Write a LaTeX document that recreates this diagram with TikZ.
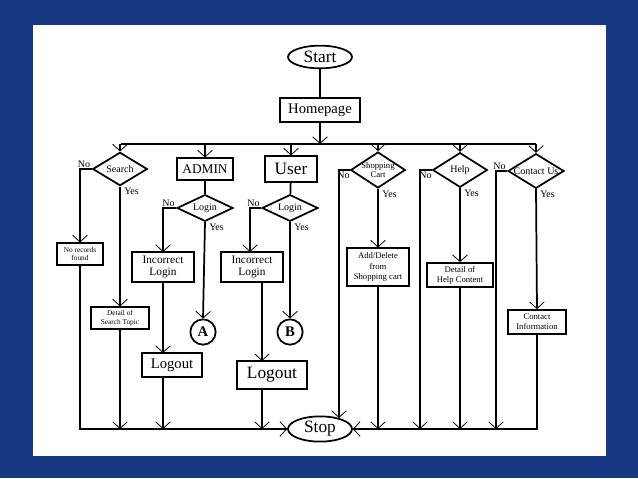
\documentclass[tikz,border=0pt]{standalone}
\usepackage{fontspec}
\setmainfont{Liberation Serif}
\usetikzlibrary{shapes.geometric,arrows.meta}
\definecolor{bg}{RGB}{22,56,130}
\begin{document}
\begin{tikzpicture}[x=0.75pt,y=-0.75pt,
  ln/.style={line width=1.3pt},
  ar/.style={ln,-{Straight Barb[length=5pt,width=11pt,line width=0.6pt]}},
  bx/.style={draw,line width=1.3pt,rectangle,inner sep=1pt,align=center},
  dm/.style={draw,line width=1.3pt,diamond,inner sep=0pt},
  dt/.style={font=\fontsize{7.5}{7}\selectfont,align=center,inner sep=0pt},
  el/.style={draw,line width=1.3pt,ellipse,inner sep=1pt,font=\fontsize{13}{14}\selectfont},
  sm/.style={font=\fontsize{5.5}{6.5}\selectfont},
  md/.style={font=\fontsize{7}{8}\selectfont},
  lb/.style={font=\fontsize{7.5}{8}\selectfont,inner sep=1pt}]
\fill[bg] (0,0) rectangle (638,478);
\fill[white] (33,25) rectangle (606,456);
\node[el,minimum width=48pt,minimum height=17pt] (start) at (320,57) {Start};
\node[bx,minimum width=60pt,minimum height=18pt,font=\fontsize{11}{12}\selectfont] (home) at (320,110) {Homepage};
\coordinate (bus) at (320,144);
\draw[ln] (start) -- (home);
\draw[ar] (home) -- (bus);
\draw[ln] (121,144) -- (536,144);
% row 1
\node[dm,minimum width=41pt,minimum height=25pt] (search) at (120,169) {};
\node[dt] at (search) {Search};
\node[bx,minimum width=42pt,minimum height=16pt,font=\fontsize{10}{11}\selectfont] (admin) at (205,169) {ADMIN};
\node[bx,minimum width=39pt,minimum height=19pt,font=\fontsize{13}{13}\selectfont] (user) at (291,169) {User};
\node[dm,minimum width=41pt,minimum height=27pt] (cart) at (378,170) {};
\node[dt,font=\fontsize{6.5}{6.5}\selectfont] at (cart) {Shopping\\Cart};
\node[dm,minimum width=41pt,minimum height=26pt] (help) at (460,170) {};
\node[dt] at (help) {Help};
\node[dm,minimum width=42pt,minimum height=26pt] (contact) at (536,171) {};
\node[dt] at (contact) {Contact Us};
\foreach \n/\x in {search/120,admin/205,user/291,cart/378,help/460,contact/536}
  \draw[ar] (\x,144) -- (\n.north);
% logins
\node[dm,minimum width=42pt,minimum height=20pt] (l1) at (205,208) {};
\node[dt] at (l1) {Login};
\node[dm,minimum width=42pt,minimum height=20pt] (l2) at (290,208) {};
\node[dt] at (l2) {Login};
\draw[ln] (admin) -- (l1);
\draw[ln] (user) -- (l2);
% boxes
\node[bx,sm,minimum width=35pt,minimum height=16pt] (norec) at (80,254) {No records\\found};
\node[bx,sm,minimum width=44pt,minimum height=16pt] (dsearch) at (120,318) {Detail of\\Search Topic};
\node[bx,minimum width=47pt,minimum height=22pt,font=\fontsize{8.5}{9.5}\selectfont] (inc1) at (163,267) {Incorrect\\Login};
\node[bx,minimum width=47pt,minimum height=22pt,font=\fontsize{8.5}{9.5}\selectfont] (inc2) at (252,267) {Incorrect\\Login};
\node[bx,minimum width=45pt,minimum height=18pt,font=\fontsize{11}{12}\selectfont] (lo1) at (172,365) {Logout};
\node[bx,minimum width=52pt,minimum height=21pt,font=\fontsize{13}{14}\selectfont] (lo2) at (272,375) {Logout};
\node[draw,line width=1.3pt,circle,minimum size=19pt,inner sep=0pt,font=\bfseries\fontsize{11}{12}\selectfont] (A) at (203,332) {A};
\node[draw,line width=1.3pt,circle,minimum size=19pt,inner sep=0pt,font=\bfseries\fontsize{11}{12}\selectfont] (B) at (290,332) {B};
\node[bx,minimum width=46pt,minimum height=28pt,font=\fontsize{6.5}{8}\selectfont] (add) at (378,267) {Add/Delete\\from\\Shopping cart};
\node[bx,minimum width=50pt,minimum height=18pt,font=\fontsize{6.5}{7.5}\selectfont] (dhelp) at (460,275) {Detail of\\Help Content};
\node[bx,minimum width=44pt,minimum height=18pt,font=\fontsize{6.5}{7.5}\selectfont] (cinfo) at (537,322) {Contact\\Information};
\node[el,minimum width=48pt,minimum height=17pt] (stop) at (320,429) {Stop};
% search
\draw[ar] (search.west) -| (norec.north);
\draw[ar] (search.south) -- (dsearch.north);
\node[lb,anchor=south east] at (search.west) {No};
\node[lb,anchor=north west] at ([xshift=2pt]search.south) {Yes};
% logins
\draw[ar] (l1.west) -| (163,252);
\draw[ar] (l1.south) -- (A.north);
\node[lb,anchor=south east] at (l1.west) {No};
\node[lb,anchor=north west] at ([xshift=2pt]l1.south) {Yes};
\draw[ar] (l2.west) -| (250,252);
\draw[ar] (l2.south) -- (B.north);
\node[lb,anchor=south east] at (l2.west) {No};
\node[lb,anchor=north west] at ([xshift=2pt]l2.south) {Yes};
\draw[ar] (163,282) -- (163,353);
\draw[ar] (262,282) -- (262,361);
% cart, help, contact
\coordinate (cn) at (339,418);
\draw[ar] (cart.west) -| (cn);
\draw[ar] (cart.south) -- (add.north);
\node[lb,anchor=north east] at ([xshift=1pt]cart.west) {No};
\node[lb,anchor=north west] at ([xshift=2pt]cart.south) {Yes};
\coordinate (hn) at (420,429);
\draw[ar] (help.west) -| (hn);
\draw[ar] (help.south) -- (dhelp.north);
\node[lb,anchor=north east] at ([xshift=1pt]help.west) {No};
\node[lb,anchor=north west] at ([xshift=2pt]help.south) {Yes};
\coordinate (on) at (496,429);
\draw[ar] (contact.west) -| (on);
\draw[ar] (contact.south) -- (cinfo.north);
\node[lb,anchor=south east] at (contact.west) {No};
\node[lb,anchor=north west] at ([xshift=2pt]contact.south) {Yes};
% to bottom
\draw[ln] (norec.south) |- (stop.west);
\draw[ar] (stop.west) ++(-1,0) -- (stop.west);
\draw[ln] (cinfo.south) |- (stop.east);
\draw[ar] (stop.east) ++(1,0) -- (stop.east);
\coordinate (b1) at (120,429); \coordinate (b2) at (163,429); \coordinate (b3) at (262,429);
\coordinate (b4) at (378,429); \coordinate (b5) at (460,429);
\draw[ar] (dsearch.south) -- (b1);
\draw[ar] (lo1.south -| b2) -- (b2);
\draw[ar] (lo2.south -| b3) -- (b3);
\draw[ar] (add.south) -- (b4);
\draw[ar] (dhelp.south) -- (b5);
\end{tikzpicture}
\end{document}
